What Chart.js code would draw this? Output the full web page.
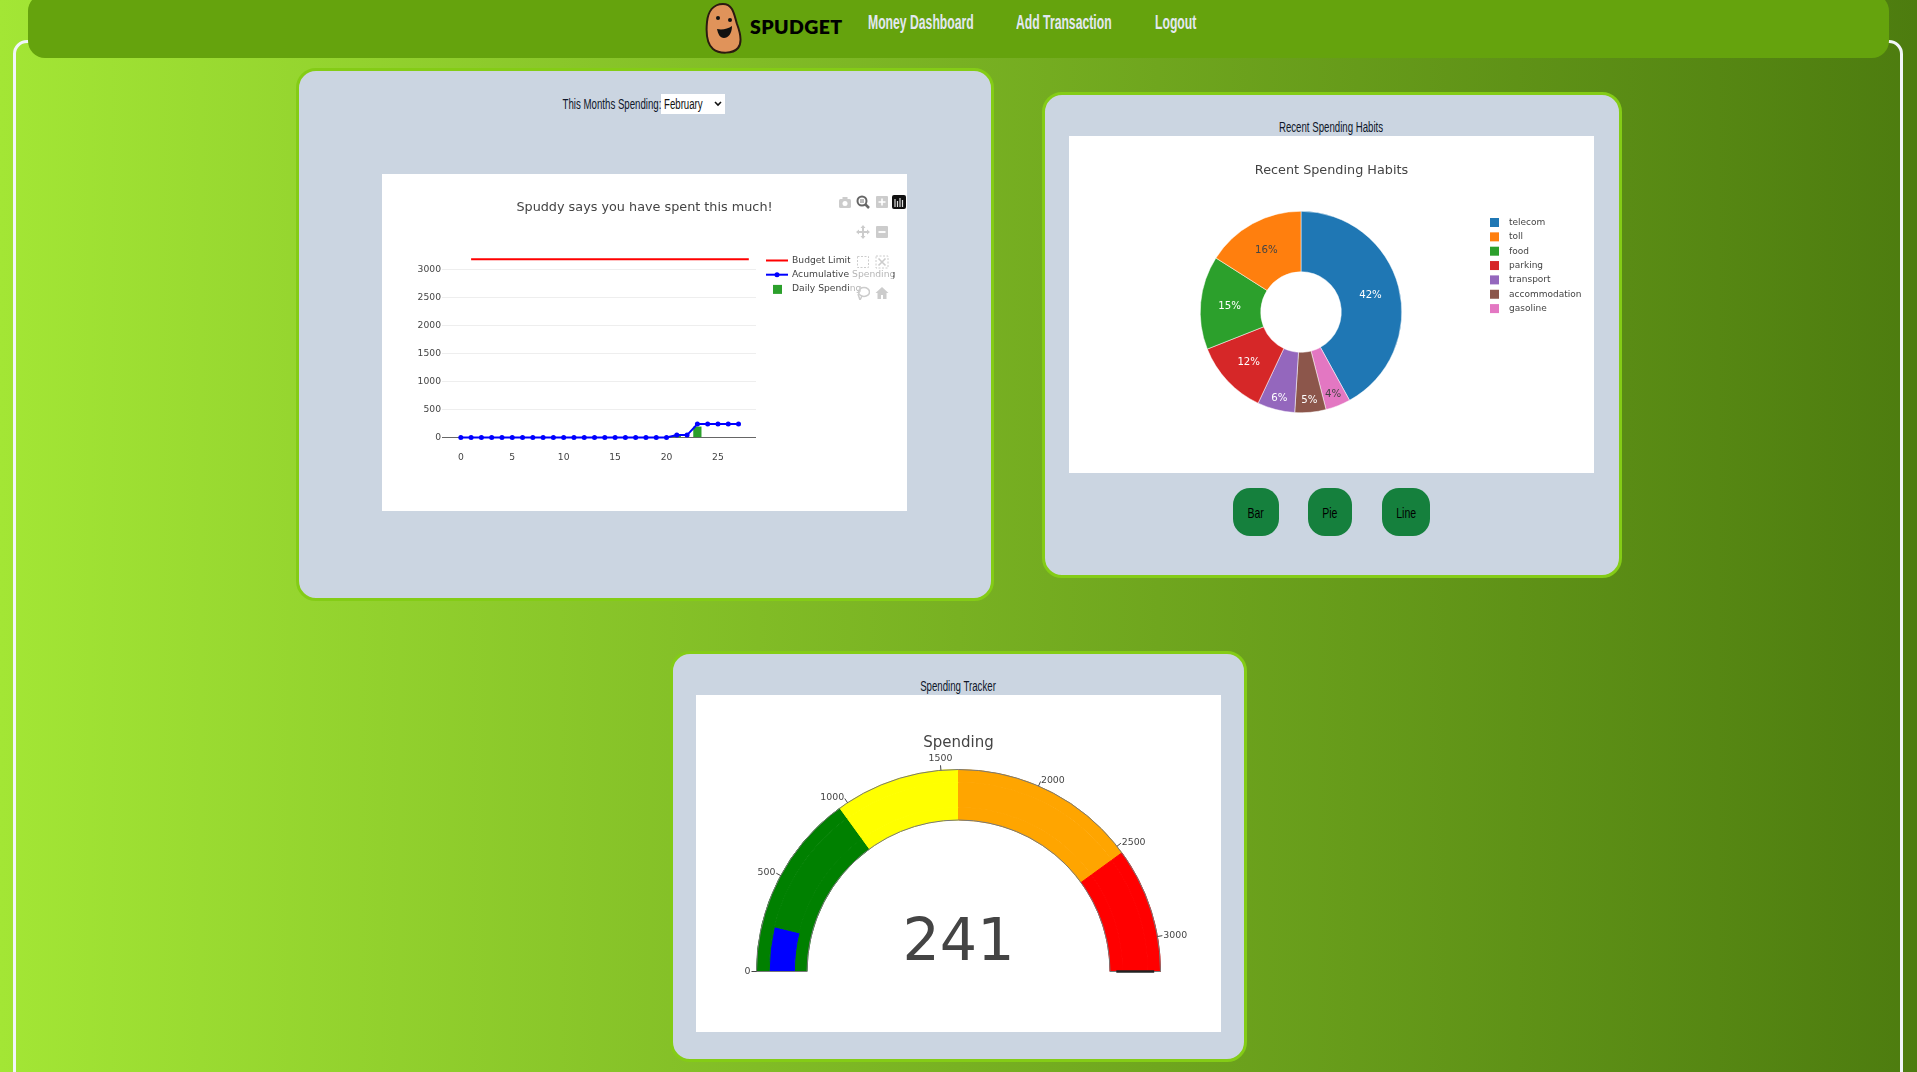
<!DOCTYPE html>
<html><head><meta charset="utf-8">
<script src="https://cdn.jsdelivr.net/npm/chart.js@4/dist/chart.umd.min.js"></script>
<style>
html,body{margin:0;padding:0;height:1072px;overflow:hidden}
body{position:relative;width:1917px;background:linear-gradient(90deg,#a3e635 0%,#4d7c0f 100%);font-family:"Liberation Sans",sans-serif}
.abs{position:absolute}
#frame{left:13px;top:40px;width:1884px;height:1100px;border:3px solid #f1f5f9;border-radius:14px}
#nav{left:28px;top:-6px;width:1861px;height:64px;background:#65a30d;border-radius:17px}
.nl{position:absolute;top:11px;color:#e2e8f0;font-weight:700;font-size:20px;white-space:nowrap;transform-origin:0 0;transform:scaleX(.61)}
.card{position:absolute;background:#cbd5e1;border:3px solid #84cc16;border-radius:20px;box-sizing:border-box}
.white{position:absolute;background:#fff}
.white canvas{display:block}
.cap{position:absolute;color:#0f172a;font-size:14px;white-space:nowrap;transform:translateX(-50%) scaleX(.69)}
.btn{position:absolute;background:#15803d;border-radius:17px;color:#000;font-size:15px;display:flex;align-items:center;justify-content:center}
.btn span{display:inline-block;transform:scaleX(.7)}
#sel{left:661px;top:94px;width:64px;height:20px;background:#fff}
#sel span{position:absolute;left:3px;top:2px;font-size:14px;color:#111;transform-origin:0 0;transform:scaleX(.69)}
.mb{position:absolute;width:14px;height:14px}
</style></head><body>
<div class="abs" id="frame"></div>
<div class="abs" id="nav"></div>
<svg class="abs" style="left:704px;top:2px" width="40" height="52" viewBox="0 0 40 52">
<path d="M19 2C9 2 4 10 3 20C2 30 3 42 9 47C15 52 29 52 34 46C39 40 36 30 33 22C30 12 29 2 19 2Z" fill="#e0935a" stroke="#2b1a10" stroke-width="2"/>
<circle cx="14" cy="16" r="2" fill="#111"/><circle cx="26" cy="18" r="2" fill="#111"/>
<path d="M13 27C18 28 24 27 28 24C28 32 24 36 20 36C16 36 14 32 13 27Z" fill="#111"/></svg>
<div class="abs" style="left:750px;top:15px;font:800 19.500px 'Lato','Noto Sans',sans-serif;letter-spacing:.4px;color:#000">SPUDGET</div>
<div class="nl" style="left:868px">Money Dashboard</div>
<div class="nl" style="left:1016px">Add Transaction</div>
<div class="nl" style="left:1155px">Logout</div>

<div class="card" style="left:296px;top:68px;width:698px;height:533px"></div>
<div class="cap" style="left:612px;top:96px">This Months Spending:</div>
<div class="abs" id="sel"><span>February</span><svg class="abs" style="left:53px;top:7px" width="8" height="6" viewBox="0 0 8 6"><path d="M1 1l3 3 3-3" fill="none" stroke="#111" stroke-width="1.600"/></svg></div>
<div class="white" style="left:382px;top:174px;width:525px;height:337px"><canvas id="c1" width="525" height="337"></canvas></div>
<div class="abs" style="left:850px;top:254px;width:43px;height:50px;background:rgba(255,255,255,.6)"></div>
<div id="modebar"></div>

<div class="card" style="left:1042px;top:92px;width:580px;height:486px"></div>
<div class="cap" style="left:1331px;top:119px">Recent Spending Habits</div>
<div class="white" style="left:1069px;top:136px;width:525px;height:337px"><canvas id="c2" width="525" height="337"></canvas></div>
<div class="btn" style="left:1233px;top:488px;width:46px;height:48px"><span>Bar</span></div>
<div class="btn" style="left:1308px;top:488px;width:44px;height:48px"><span>Pie</span></div>
<div class="btn" style="left:1382px;top:488px;width:48px;height:48px"><span>Line</span></div>

<div class="card" style="left:670px;top:651px;width:577px;height:411px"></div>
<div class="cap" style="left:958px;top:678px">Spending Tracker</div>
<div class="white" style="left:696px;top:695px;width:525px;height:337px"><canvas id="c3" width="525" height="337"></canvas></div>

<script>
const FONT='"DejaVu Sans",sans-serif', INK='#444';
// ---- line chart data
const days=[0,1,2,3,4,5,6,7,8,9,10,11,12,13,14,15,16,17,18,19,20,21,22,23,24,25,26,27];
const cumulative=[0,0,0,0,0,0,0,0,0,0,0,0,0,0,0,0,0,0,0,0,0,45,45,241,241,241,241,241];
const dailySpending=[0,0,0,0,0,0,0,0,0,0,0,0,0,0,0,0,0,0,0,0,0,45,0,196,0,0,0,0];
const budgetDays=[1,28];
const budgetValues=[3176,3176];
const yTicks=[0,500,1000,1500,2000,2500,3000];
// ---- pie data
const pieLabels=['telecom','gasoline','accommodation','transport','parking','food','toll'];
const pieValues=[42,4,5,6,12,15,16];
const pieColors=['#1f77b4','#e377c2','#8c564b','#9467bd','#d62728','#2ca02c','#ff7f0e'];
const pieLegendOrder=['telecom','toll','food','parking','transport','accommodation','gasoline'];
// ---- gauge data
const gaugeValue=241, gaugeMax=3176, gaugeThreshold=3176;
const stepEdges=[0,953,1588,2541,3176];
const stepColors=['#008000','#ffff00','#ffa500','#ff0000'];
const gaugeTicks=[0,500,1000,1500,2000,2500,3000];

Chart.defaults.animation=false;
Chart.defaults.responsive=false;
Chart.defaults.font.family=FONT;
Chart.defaults.color=INK;

const titleOf=(text,size,y)=>({id:'t',afterDraw(c){const x=c.ctx;x.save();x.font=size+'px '+FONT;x.fillStyle=INK;x.textAlign='center';x.textBaseline='middle';x.fillText(text,c.width/2,y);x.restore();}});

// LINE / BAR
new Chart('c1',{type:'bar',
 data:{datasets:[
  {type:'line',label:'Budget Limit',data:budgetDays.map((d,i)=>({x:d,y:budgetValues[i]})),borderColor:'#ff0000',borderWidth:1.8,pointRadius:0},
  {type:'line',label:'Acumulative Spending',data:days.map((d,i)=>({x:d,y:cumulative[i]})),borderColor:'#0000ff',backgroundColor:'#0000ff',borderWidth:2,pointRadius:2.5,pointBorderWidth:0},
  {type:'bar',label:'Daily Spending',data:days.map((d,i)=>({x:d,y:dailySpending[i]})),backgroundColor:'#2ca02c',categoryPercentage:1,barPercentage:.8}
 ]},
 options:{layout:{padding:{left:0,right:151,top:77,bottom:0}},
  plugins:{legend:{display:false},tooltip:{enabled:false}},
  scales:{
   x:{type:'linear',offset:false,min:-1.83,max:28.7,grid:{display:false},border:{display:false},afterFit:s=>{s.height=66},
      ticks:{stepSize:5,includeBounds:false,font:{size:9.2},padding:-1,maxRotation:0,autoSkip:false}},
   y:{min:-132,max:3323,grid:{color:c=>c.tick&&c.tick.value===0?'#666':'#eee',drawTicks:false},border:{display:false},afterFit:s=>{s.width=60},
      afterBuildTicks:s=>{s.ticks=yTicks.map(v=>({value:v}))},
      ticks:{callback:v=>String(v),font:{size:9.2},padding:1}}
  }},
 plugins:[titleOf('Spuddy says you have spent this much!',12.8,34),{id:'lg',afterDraw(c){
   const x=c.ctx;x.save();x.font='9.2px '+FONT;x.textBaseline='middle';
   c.data.datasets.forEach((d,i)=>{const y=86.5+i*14.2;x.fillStyle=INK;x.fillText(d.label,410,y);
     if(d.type==='bar'){x.fillStyle=d.backgroundColor;x.fillRect(391,y-4,9,9);}
     else{x.strokeStyle=d.borderColor;x.lineWidth=2;x.beginPath();x.moveTo(384,y);x.lineTo(406,y);x.stroke();
       if(d.pointRadius){x.fillStyle=d.borderColor;x.beginPath();x.arc(395,y,2.5,0,7);x.fill();}}
   });x.restore();}}]});

// PIE
const pieLabelPlugin={id:'pl',afterDraw(c){
  const x=c.ctx,m=c.getDatasetMeta(0);x.save();x.font='10.2px '+FONT;x.textAlign='center';x.textBaseline='middle';
  m.data.forEach((a,i)=>{const mid=(a.startAngle+a.endAngle)/2,r=a.innerRadius+(a.outerRadius-a.innerRadius)*(pieValues[i]<7?.78:.52);
    x.fillStyle=['toll','gasoline'].includes(pieLabels[i])?INK:'#fff';
    x.fillText(pieValues[i]+'%',a.x+Math.cos(mid)*r,a.y+Math.sin(mid)*r+1.5);});
  x.font='9px '+FONT;x.textAlign='left';
  pieLegendOrder.forEach((n,i)=>{const y=86.5+i*14.35;x.fillStyle=pieColors[pieLabels.indexOf(n)];x.fillRect(421,y-4.5,9,9);x.fillStyle=INK;x.fillText(n,440,y);});
  x.restore();}};
new Chart('c2',{type:'doughnut',data:{labels:pieLabels,datasets:[{data:pieValues,backgroundColor:pieColors,borderColor:'#fff',borderWidth:.5}]},
 options:{cutout:'40%',layout:{padding:{left:131,right:192,top:75,bottom:60}},plugins:{legend:{display:false},tooltip:{enabled:false}}},
 plugins:[titleOf('Recent Spending Habits',12.8,35),pieLabelPlugin]});

// GAUGE
const stepValues=stepEdges.slice(1).map((e,i)=>e-stepEdges[i]);
const midValues=[gaugeValue,stepEdges[1]-gaugeValue,...stepValues.slice(1)];
const midColors=['#0000ff',...stepColors];
const gaugePlugin={id:'g',afterDraw(c){
  const x=c.ctx,a=c.getDatasetMeta(0).data[0],i=c.getDatasetMeta(2).data[0];
  const cx=a.x,cy=a.y,R=a.outerRadius,r=i.innerRadius;
  const ang=v=>Math.PI+v/gaugeMax*Math.PI;
  x.save();x.strokeStyle='#777';x.lineWidth=1;
  x.beginPath();x.arc(cx,cy,R,Math.PI,2*Math.PI);x.stroke();
  x.beginPath();x.arc(cx,cy,r,Math.PI,2*Math.PI);x.stroke();
  x.beginPath();x.moveTo(cx-R,cy);x.lineTo(cx-r,cy);x.moveTo(cx+r,cy);x.lineTo(cx+R,cy);x.stroke();
  const t=(R-r)*.125;x.strokeStyle='#222';x.lineWidth=2.5;x.beginPath();const th=ang(gaugeThreshold);
  x.moveTo(cx+Math.cos(th)*(r+t),cy+Math.sin(th)*(r+t));x.lineTo(cx+Math.cos(th)*(R-t),cy+Math.sin(th)*(R-t));x.stroke();
  x.font='9.4px '+FONT;x.fillStyle=INK;x.strokeStyle=INK;x.lineWidth=1;
  gaugeTicks.forEach(v=>{const g=ang(v),ca=Math.cos(g),sa=Math.sin(g);
    x.beginPath();x.moveTo(cx+ca*R,cy+sa*R);x.lineTo(cx+ca*(R+5),cy+sa*(R+5));x.stroke();
    x.textBaseline='middle';x.textAlign=ca<-.1?'right':ca>.1?'left':'center';
    x.fillText(v,cx+ca*(R+6),cy+sa*(R+6)-(Math.abs(ca)<=.1?6:0));});
  x.font='58.7px '+FONT;x.textAlign='center';x.fillText(gaugeValue,cx,cy-27);
  x.restore();}};
const ring=(data,colors,weight)=>({data,backgroundColor:colors,borderColor:colors,borderWidth:1,weight});
new Chart('c3',{type:'doughnut',data:{datasets:[
  ring(stepValues,stepColors,1),
  ring(midValues,midColors,2),
  ring(stepValues,stepColors,1)]},
 options:{rotation:-90,circumference:180,cutout:'75%',layout:{padding:{left:60,right:60,top:74,bottom:60}},plugins:{legend:{display:false},tooltip:{enabled:false}}},
 plugins:[titleOf('Spending',15,48.5),gaugePlugin]});

// MODEBAR
const mbIcons=[
 [845,202,'#ccc','<rect x="1" y="4" width="12" height="9" rx="1.5"/><circle cx="7" cy="8.5" r="2.5" fill="#fff"/><rect x="4.5" y="2" width="5" height="3"/>'],
 [863,202,'#666','<circle cx="6" cy="6" r="4.5" fill="none" stroke="#666" stroke-width="2"/><rect x="4" y="4" width="4" height="4" fill="#bbb"/><path d="M9 9l4 4" stroke="#666" stroke-width="2.5"/>'],
 [882,202,'#ccc','<rect x="1" y="1" width="12" height="12" rx="1"/><path d="M7 3.5v7M3.5 7h7" stroke="#fff" stroke-width="1.6"/>'],
 [899,202,'#111','<rect width="14" height="14" rx="2"/><path d="M3 4v8M5.5 6v6M8 3v9M10.5 5v7" stroke="#ddd" stroke-width="1.2"/>'],
 [863,232,'#ccc','<path d="M7 0l2.5 3H8v3h3V4.5L14 7l-3 2.5V8H8v3h1.5L7 14l-2.500-3H6V8H3v1.500L0 7l3-2.500V6h3V3H4.500z"/>'],
 [882,232,'#ccc','<rect x="1" y="1" width="12" height="12" rx="1"/><path d="M3.500 7h7" stroke="#fff" stroke-width="1.8"/>'],
 [863,262,'#ccc','<rect x="1.500" y="1.500" width="11" height="11" fill="none" stroke="#ccc" stroke-width="1" stroke-dasharray="2 1.500"/>'],
 [882,262,'#ccc','<rect x="1" y="1" width="12" height="12" fill="none" stroke="#ccc" stroke-dasharray="2 1.500"/><path d="M3.500 3.500l7 7M10.500 3.500l-7 7" stroke="#ccc" stroke-width="1.600"/>'],
 [863,293,'#ccc','<ellipse cx="8" cy="6" rx="5.500" ry="4.500" fill="none" stroke="#ccc" stroke-width="1.500"/><path d="M2 8l2 6 2-4" fill="none" stroke="#ccc" stroke-width="1.500"/>'],
 [882,293,'#ccc','<path d="M7 1L0.500 7H2.500v6h3.500V9h2v4h3.500V7h2z"/>']];
document.getElementById('modebar').innerHTML=mbIcons.map(([x,y,f,s])=>`<svg class="mb" style="left:${x-7}px;top:${y-7}px" viewBox="0 0 14 14" fill="${f}">${s}</svg>`).join('');
</script>
</body></html>
